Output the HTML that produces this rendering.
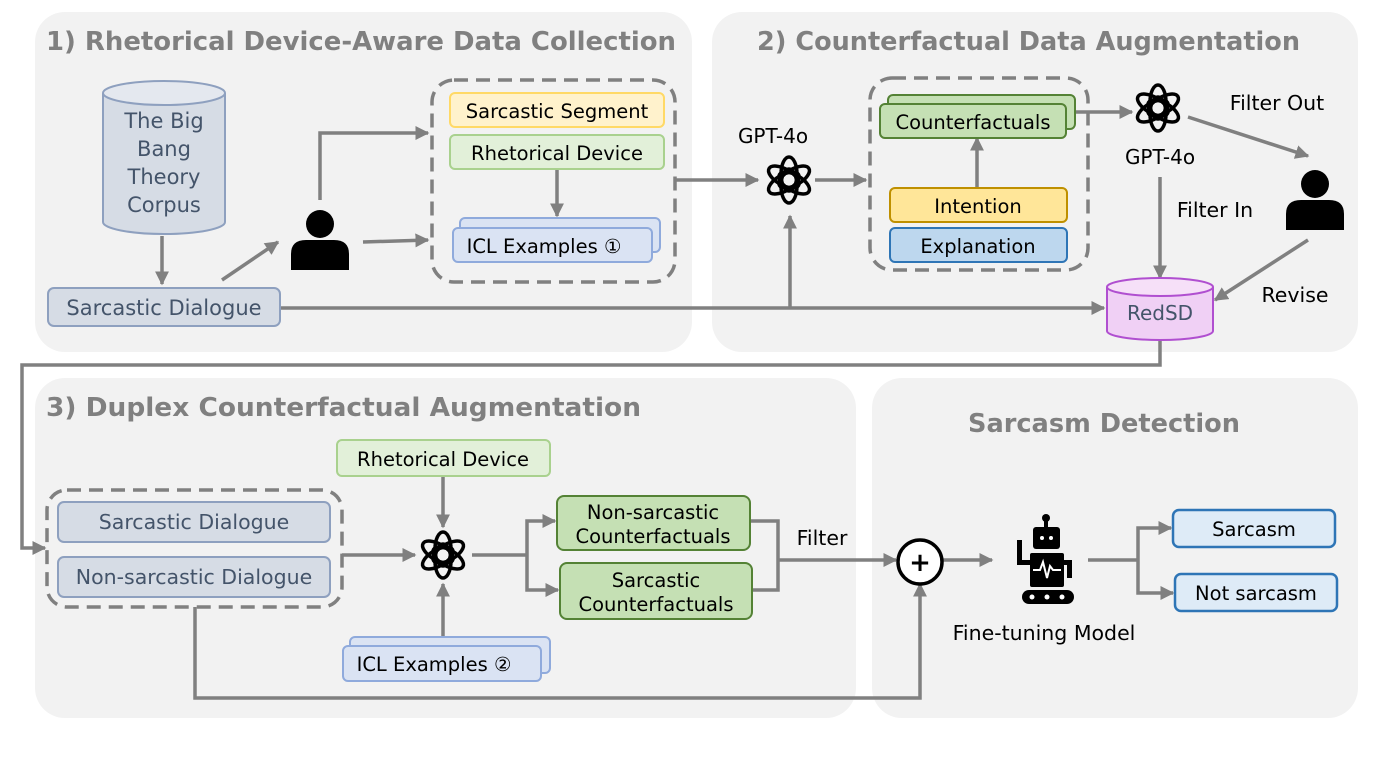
<!DOCTYPE html>
<html><head><meta charset="utf-8"><style>
body{margin:0;background:#fff}
svg{display:block}
.t{font-family:"DejaVu Sans","Liberation Sans",sans-serif}
.h{font-family:"DejaVu Sans","Liberation Sans",sans-serif;font-weight:bold;fill:#808080;font-size:26px}
</style></head><body>
<svg width="1377" height="766" viewBox="0 0 1377 766" xmlns="http://www.w3.org/2000/svg">
<defs>
<marker id="b" viewBox="0 0 10 10" markerWidth="14" markerHeight="14" refX="9" refY="5" orient="auto" markerUnits="userSpaceOnUse"><path d="M0,0 L10,5 L0,10z" fill="#808080"/></marker>
<g id="logo" fill="none" stroke="#000" stroke-width="3.5">
<ellipse rx="8" ry="17" transform="rotate(0) translate(0,-6)"/>
<ellipse rx="8" ry="17" transform="rotate(60) translate(0,-6)"/>
<ellipse rx="8" ry="17" transform="rotate(120) translate(0,-6)"/>
<ellipse rx="8" ry="17" transform="rotate(180) translate(0,-6)"/>
<ellipse rx="8" ry="17" transform="rotate(240) translate(0,-6)"/>
<ellipse rx="8" ry="17" transform="rotate(300) translate(0,-6)"/>
</g>
<g id="person" fill="#000"><circle cx="0" cy="-16" r="14"/><path d="M-29,30 L-29,14 Q-29,0 -14,0 L14,0 Q29,0 29,14 L29,30z"/></g>
</defs>
<rect x="35" y="12" width="657" height="340" rx="30" fill="#f2f2f2"/>
<rect x="712" y="12" width="646" height="340" rx="30" fill="#f2f2f2"/>
<rect x="35" y="378" width="821" height="340" rx="30" fill="#f2f2f2"/>
<rect x="872" y="378" width="486" height="340" rx="30" fill="#f2f2f2"/>
<text class="h" x="46" y="50" textLength="630" lengthAdjust="spacingAndGlyphs">1) Rhetorical Device-Aware Data Collection</text>
<text class="h" x="757" y="50" textLength="543" lengthAdjust="spacingAndGlyphs">2) Counterfactual Data Augmentation</text>
<text class="h" x="46" y="416" textLength="595" lengthAdjust="spacingAndGlyphs">3) Duplex Counterfactual Augmentation</text>
<text class="h" x="968" y="432" textLength="272" lengthAdjust="spacingAndGlyphs">Sarcasm Detection</text>

<g stroke="#808080" stroke-width="3.5" fill="none">
<line x1="162" y1="236" x2="162" y2="284" marker-end="url(#b)"/>
<line x1="222" y1="280" x2="278" y2="242" marker-end="url(#b)"/>
<polyline points="320,200 320,133 428,133" marker-end="url(#b)"/>
<line x1="363" y1="242" x2="428" y2="240" marker-end="url(#b)"/>
<line x1="557" y1="170" x2="557" y2="216" marker-end="url(#b)"/>
<line x1="675" y1="180" x2="758" y2="180" marker-end="url(#b)"/>
<line x1="280" y1="308" x2="1104" y2="308" marker-end="url(#b)"/>
<line x1="790" y1="308" x2="790" y2="216" marker-end="url(#b)"/>
<line x1="815" y1="180" x2="866" y2="180" marker-end="url(#b)"/>
<line x1="977" y1="188" x2="977" y2="138" marker-end="url(#b)"/>
<line x1="1075" y1="112" x2="1132" y2="112" marker-end="url(#b)"/>
<line x1="1188" y1="117" x2="1308" y2="156" marker-end="url(#b)"/>
<line x1="1160" y1="177" x2="1160" y2="278" marker-end="url(#b)"/>
<line x1="1308" y1="240" x2="1215" y2="300" marker-end="url(#b)"/>
<polyline points="1160,338 1160,365 22,365 22,548 45,548" marker-end="url(#b)"/>
<line x1="342" y1="555" x2="415" y2="555" marker-end="url(#b)"/>
<line x1="443" y1="476" x2="443" y2="527" marker-end="url(#b)"/>
<line x1="443" y1="637" x2="443" y2="584" marker-end="url(#b)"/>
<polyline points="472,555 527,555"/>
<polyline points="527,555 527,521 555,521" marker-end="url(#b)"/>
<polyline points="527,555 527,590 558,590" marker-end="url(#b)"/>
<polyline points="750,521 778,521 778,590 752,590"/>
<line x1="778" y1="560" x2="896" y2="560" marker-end="url(#b)"/>
<line x1="942" y1="560" x2="992" y2="560" marker-end="url(#b)"/>
<polyline points="195,607 195,698 920,698 920,584" marker-end="url(#b)"/>
<line x1="1088" y1="560" x2="1138" y2="560"/>
<polyline points="1138,560 1138,528 1171,528" marker-end="url(#b)"/>
<polyline points="1138,560 1138,593 1173,593" marker-end="url(#b)"/>
</g>

<path d="M103,93 L103,222 A61,12 0 0 0 225,222 L225,93" fill="#d6dce5" stroke="#8ea0bf" stroke-width="2"/>
<ellipse cx="164" cy="93" rx="61" ry="12" fill="#e4e8ef" stroke="#8ea0bf" stroke-width="2"/>
<g class="t" font-size="21" fill="#44546a" text-anchor="middle">
<text x="164" y="128">The Big</text><text x="164" y="156">Bang</text><text x="164" y="184">Theory</text><text x="164" y="212">Corpus</text></g>
<rect x="48" y="288" width="232" height="38" rx="6" fill="#d6dce5" stroke="#8ea0bf" stroke-width="2"/>
<text class="t" x="164" y="315" font-size="21" fill="#44546a" text-anchor="middle">Sarcastic Dialogue</text>

<use href="#person" x="320" y="240"/>
<use href="#person" x="1315" y="200"/>

<rect x="432" y="80" width="243" height="202" rx="22" fill="none" stroke="#808080" stroke-width="3.5" stroke-dasharray="14,8"/>
<rect x="450" y="93" width="214" height="34" rx="5" fill="#fff2cc" stroke="#ffd966" stroke-width="2"/>
<text class="t" x="557" y="118" font-size="19.5" text-anchor="middle">Sarcastic Segment</text>
<rect x="450" y="135" width="214" height="34" rx="5" fill="#e2f0d9" stroke="#a9d18e" stroke-width="2"/>
<text class="t" x="557" y="160" font-size="19.5" text-anchor="middle">Rhetorical Device</text>
<rect x="460" y="218" width="200" height="34" rx="5" fill="#dae3f3" stroke="#8faadc" stroke-width="2"/>
<rect x="453" y="228" width="199" height="34" rx="5" fill="#dae3f3" stroke="#8faadc" stroke-width="2"/>
<text class="t" x="544" y="253" font-size="19.5" text-anchor="middle">ICL Examples ①</text>

<text class="t" x="773" y="143" font-size="20" text-anchor="middle">GPT-4o</text>
<use href="#logo" x="789" y="180"/>
<rect x="870" y="78" width="218" height="192" rx="22" fill="none" stroke="#808080" stroke-width="3.5" stroke-dasharray="14,8"/>
<rect x="888" y="95" width="187" height="34" rx="5" fill="#c5e0b4" stroke="#548235" stroke-width="2"/>
<rect x="880" y="104" width="186" height="34" rx="5" fill="#c5e0b4" stroke="#548235" stroke-width="2"/>
<text class="t" x="973" y="129" font-size="19.5" text-anchor="middle">Counterfactuals</text>
<rect x="890" y="188" width="177" height="34" rx="5" fill="#ffe699" stroke="#bf9000" stroke-width="2"/>
<text class="t" x="978" y="213" font-size="19.5" text-anchor="middle">Intention</text>
<rect x="890" y="228" width="177" height="34" rx="5" fill="#bdd7ee" stroke="#2e75b6" stroke-width="2"/>
<text class="t" x="978" y="253" font-size="19.5" text-anchor="middle">Explanation</text>
<use href="#logo" x="1158" y="108"/>
<text class="t" x="1160" y="164" font-size="20" text-anchor="middle">GPT-4o</text>
<text class="t" x="1277" y="110" font-size="20.5" text-anchor="middle">Filter Out</text>
<text class="t" x="1215" y="217" font-size="20.5" text-anchor="middle">Filter In</text>
<text class="t" x="1295" y="302" font-size="20.5" text-anchor="middle">Revise</text>
<path d="M1107,287 L1107,331 A53,9 0 0 0 1213,331 L1213,287" fill="#f0d0f5" stroke="#b04fd0" stroke-width="2"/>
<ellipse cx="1160" cy="287" rx="53" ry="9" fill="#f6e0f8" stroke="#b04fd0" stroke-width="2"/>
<text class="t" x="1160" y="320" font-size="20" fill="#44546a" text-anchor="middle">RedSD</text>

<rect x="47" y="490" width="295" height="117" rx="20" fill="none" stroke="#808080" stroke-width="3.5" stroke-dasharray="14,8"/>
<rect x="58" y="502" width="272" height="40" rx="6" fill="#d6dce5" stroke="#8ea0bf" stroke-width="2"/>
<text class="t" x="194" y="529" font-size="20.5" fill="#44546a" text-anchor="middle">Sarcastic Dialogue</text>
<rect x="58" y="557" width="272" height="40" rx="6" fill="#d6dce5" stroke="#8ea0bf" stroke-width="2"/>
<text class="t" x="194" y="584" font-size="20.5" fill="#44546a" text-anchor="middle">Non-sarcastic Dialogue</text>
<rect x="337" y="440" width="213" height="36" rx="5" fill="#e2f0d9" stroke="#a9d18e" stroke-width="2"/>
<text class="t" x="443" y="466" font-size="19.5" text-anchor="middle">Rhetorical Device</text>
<use href="#logo" x="443" y="555"/>
<rect x="350" y="637" width="200" height="36" rx="5" fill="#dae3f3" stroke="#8faadc" stroke-width="2"/>
<rect x="343" y="646" width="198" height="35" rx="5" fill="#dae3f3" stroke="#8faadc" stroke-width="2"/>
<text class="t" x="434" y="671" font-size="19.5" text-anchor="middle">ICL Examples ②</text>
<rect x="557" y="496" width="193" height="54" rx="7" fill="#c5e0b4" stroke="#548235" stroke-width="2"/>
<text class="t" x="653" y="519" font-size="19.5" text-anchor="middle">Non-sarcastic</text>
<text class="t" x="653" y="543" font-size="19.5" text-anchor="middle">Counterfactuals</text>
<rect x="560" y="563" width="192" height="56" rx="7" fill="#c5e0b4" stroke="#548235" stroke-width="2"/>
<text class="t" x="656" y="587" font-size="19.5" text-anchor="middle">Sarcastic</text>
<text class="t" x="656" y="611" font-size="19.5" text-anchor="middle">Counterfactuals</text>
<text class="t" x="822" y="545" font-size="20.5" text-anchor="middle">Filter</text>
<circle cx="920" cy="562" r="22" fill="#fff" stroke="#000" stroke-width="3.5"/>
<text class="t" x="920" y="571" font-size="26" font-weight="bold" text-anchor="middle">+</text>
<g fill="#000">
<circle cx="1046" cy="518" r="4"/><rect x="1044" y="518" width="4" height="10"/>
<rect x="1033" y="527" width="27" height="22" rx="3"/>
<rect x="1030" y="553" width="34" height="34" rx="2"/>
<rect x="1017" y="560" width="14" height="5"/><rect x="1017" y="540" width="5" height="24"/>
<rect x="1064" y="560" width="8" height="5"/><rect x="1067" y="560" width="5" height="18"/>
<rect x="1022" y="590" width="52" height="14" rx="7"/>
</g>
<circle cx="1042" cy="538" r="2" fill="#fff"/><circle cx="1051" cy="538" r="2" fill="#fff"/>
<circle cx="1032" cy="597" r="2.5" fill="#fff"/><circle cx="1047" cy="597" r="2.5" fill="#fff"/><circle cx="1062" cy="597" r="2.5" fill="#fff"/>
<polyline points="1033,570 1040,570 1043,562 1047,578 1050,566 1053,570 1061,570" fill="none" stroke="#fff" stroke-width="2"/>
<text class="t" x="1044" y="640" font-size="20.5" text-anchor="middle">Fine-tuning Model</text>
<rect x="1173" y="510" width="162" height="37" rx="6" fill="#deebf7" stroke="#2e75b6" stroke-width="2.5"/>
<text class="t" x="1254" y="536" font-size="19.5" text-anchor="middle">Sarcasm</text>
<rect x="1175" y="574" width="162" height="37" rx="6" fill="#deebf7" stroke="#2e75b6" stroke-width="2.5"/>
<text class="t" x="1256" y="600" font-size="19.5" text-anchor="middle">Not sarcasm</text>
</svg>
</body></html>
